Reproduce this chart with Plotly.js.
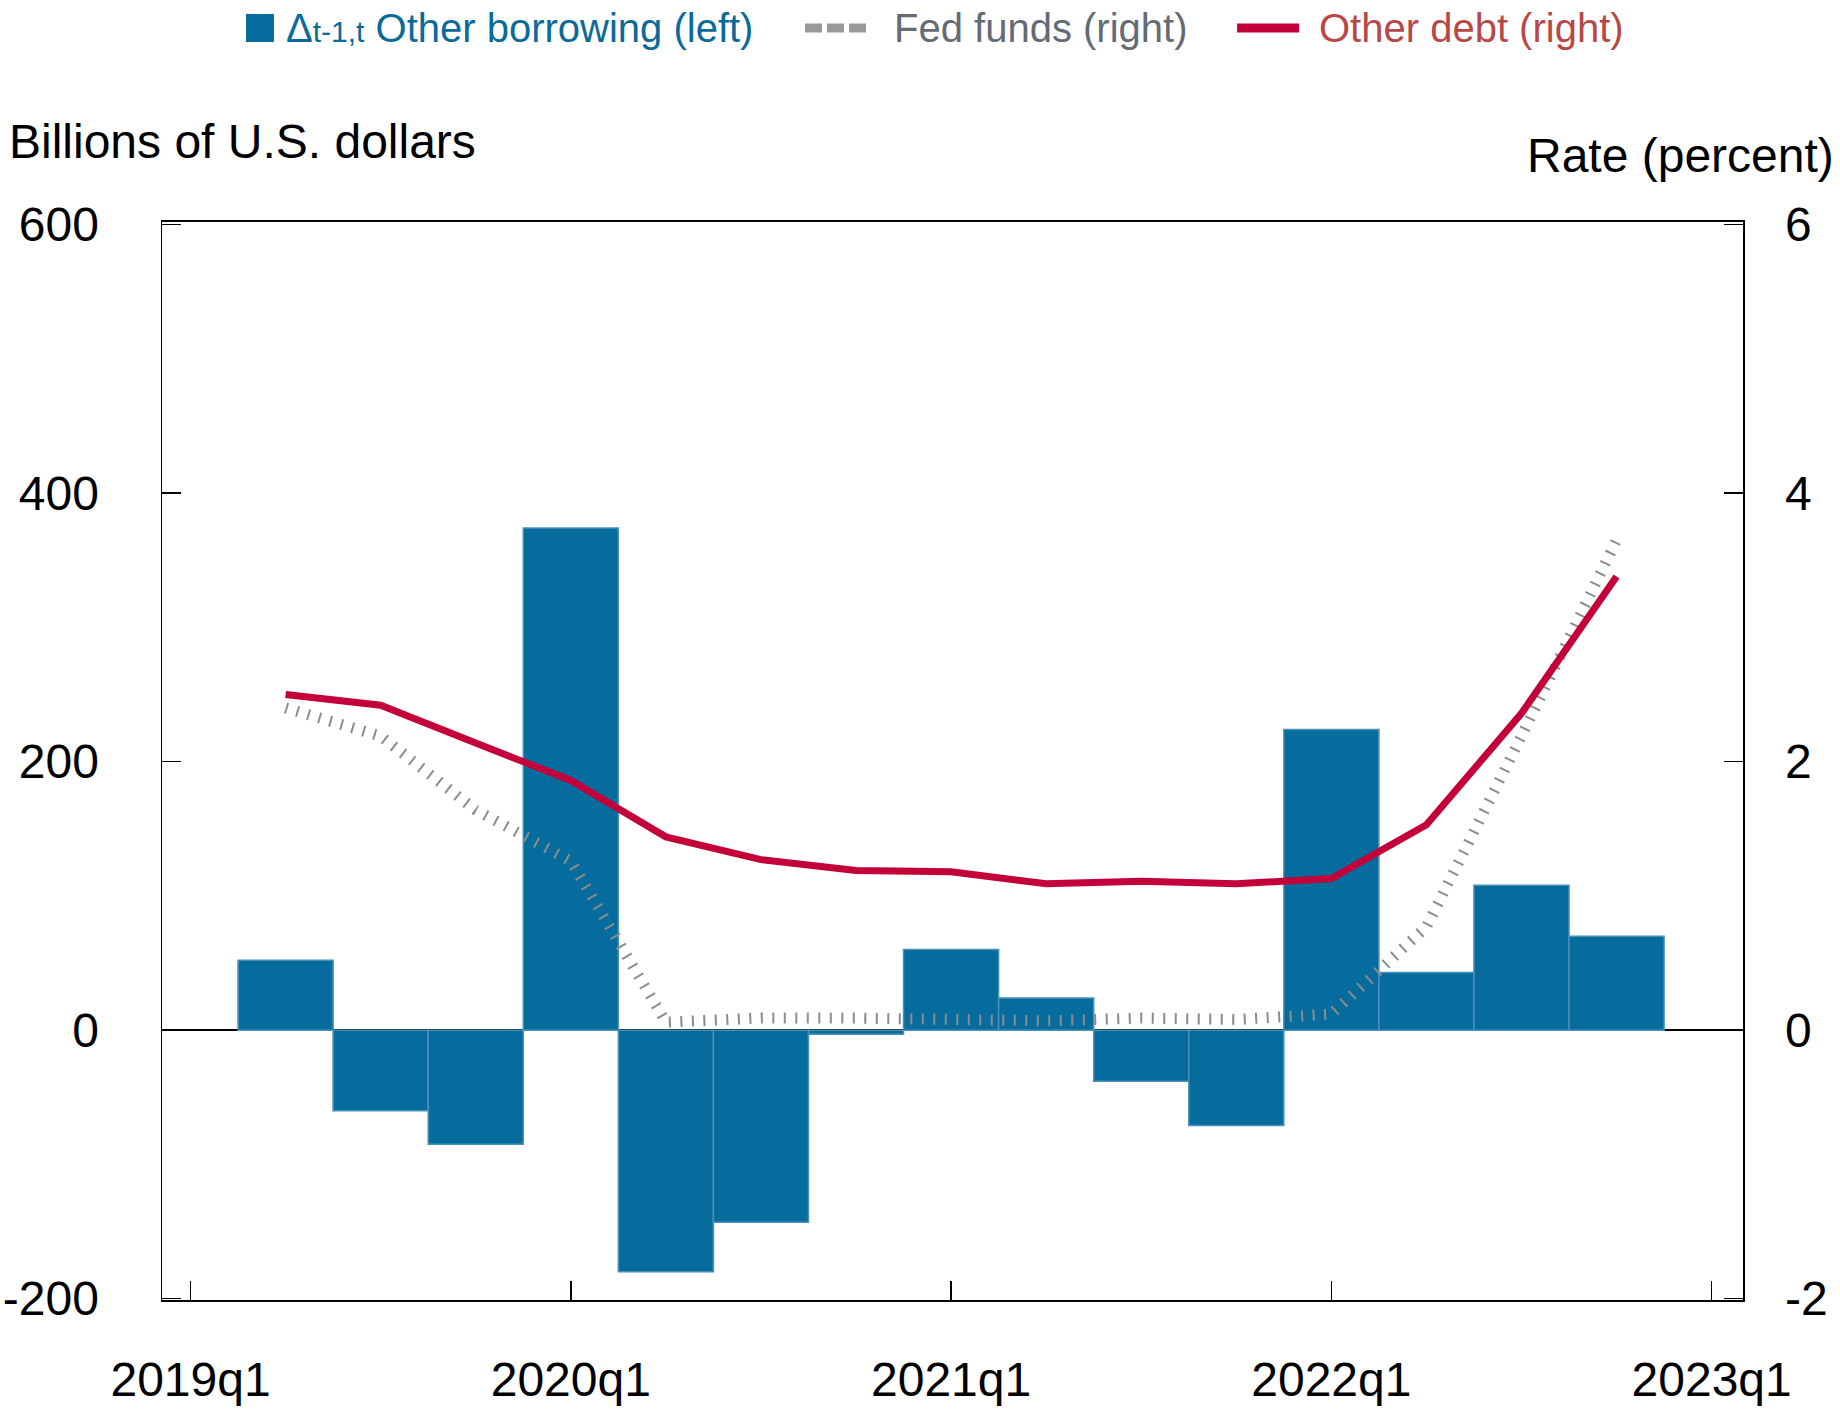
<!DOCTYPE html>
<html>
<head>
<meta charset="utf-8">
<script src="https://cdn.plot.ly/plotly-3.0.1.min.js"></script>
<style>
  html, body { margin: 0; padding: 0; background: #fff; }
  #chart { width: 1840px; height: 1423px; }
</style>
</head>
<body>
<div id="chart"></div>
<script>
// axis categories, 2019q1 .. 2023q1
const quarters = [
    '2019q1', '2019q2', '2019q3', '2019q4',
    '2020q1', '2020q2', '2020q3', '2020q4',
    '2021q1', '2021q2', '2021q3', '2021q4',
    '2022q1', '2022q2', '2022q3', '2022q4',
    '2023q1'
];
const tickQuarters = ['2019q1', '2020q1', '2021q1', '2022q1', '2023q1'];
const leftTicks = [-200, 0, 200, 400, 600];
const leftTickText = ['-200', '0', '200', '400', '600'];
const rightTicks = [-2, 0, 2, 4, 6];
const rightTickText = ['-2', '0', '2', '4', '6'];

// observations, 2019q2 .. 2022q4
const obsQuarters = [
    '2019q2', '2019q3', '2019q4',
    '2020q1', '2020q2', '2020q3', '2020q4',
    '2021q1', '2021q2', '2021q3', '2021q4',
    '2022q1', '2022q2', '2022q3', '2022q4'
];
const otherBorrowing = [52, -60, -85, 374, -180, -143, -3, 60, 24, -38, -71, 224, 43, 108, 70];
const fedFunds = [2.40, 2.19, 1.64, 1.26, 0.06, 0.09, 0.09, 0.08, 0.07, 0.09, 0.08, 0.12, 0.77, 2.19, 3.65];
const otherDebt = [2.50, 2.42, 2.14, 1.86, 1.44, 1.27, 1.19, 1.18, 1.09, 1.11, 1.09, 1.13, 1.53, 2.36, 3.38];

const colors = {
    bar: '#066c9e',
    barText: '#0a6a9a',
    fed: '#8c8c8c',
    fedText: '#646b74',
    debt: '#c3003a',
    debtText: '#b84848'
};
const font = 'Liberation Sans, Arial, sans-serif';

const traces = [
    {
        x: obsQuarters,
        y: otherBorrowing,
        type: 'bar',
        width: 1,
        name: 'Other borrowing (left)',
        marker: { color: colors.bar, line: { color: '#4a91b8', width: 1.5 } },
        yaxis: 'y'
    },
    {
        x: obsQuarters,
        y: fedFunds,
        type: 'scatter',
        mode: 'lines',
        name: 'Fed funds (right)',
        line: { color: colors.fed, width: 11, dash: '2px,9.5px' },
        yaxis: 'y2'
    },
    {
        x: obsQuarters,
        y: otherDebt,
        type: 'scatter',
        mode: 'lines',
        name: 'Other debt (right)',
        line: { color: colors.debt, width: 7 },
        yaxis: 'y2'
    }
];

// legend above the plot, drawn as shapes + text
const legendY = 1.18;
const legendShapes = [
    {
        type: 'rect', xref: 'paper', yref: 'paper',
        x0: 0.0531, x1: 0.0708, y0: 1.167, y1: 1.193,
        fillcolor: colors.bar, line: { width: 0 }
    },
    {
        type: 'line', xref: 'paper', yref: 'paper',
        x0: 0.4067, x1: 0.4466, y0: legendY, y1: legendY,
        line: { color: '#999999', width: 9, dash: '17px,5px' }
    },
    {
        type: 'line', xref: 'paper', yref: 'paper',
        x0: 0.6800, x1: 0.7192, y0: legendY, y1: legendY,
        line: { color: colors.debt, width: 9 }
    }
];
const legendTexts = [
    { x: 0.0772, text: '\u0394<span style="font-size:30px">t-1,t</span> Other borrowing (left)', color: colors.barText },
    { x: 0.4617, text: 'Fed funds (right)', color: colors.fedText },
    { x: 0.7306, text: 'Other debt (right)', color: colors.debtText }
].map(t => ({
    text: t.text,
    xref: 'paper', yref: 'paper',
    x: t.x, xanchor: 'left',
    y: legendY, yanchor: 'middle',
    showarrow: false,
    font: { size: 40, color: t.color }
}));

const layout = {
    width: 1840,
    height: 1423,
    margin: { l: 162, r: 97, t: 222, b: 123, autoexpand: false },
    paper_bgcolor: '#fff',
    plot_bgcolor: '#fff',
    font: { family: font, size: 48, color: '#000' },
    showlegend: false,
    bargap: 0,
    xaxis: {
        type: 'category',
        categoryorder: 'array',
        categoryarray: quarters,
        range: [-0.3, 16.33],
        tickvals: tickQuarters,
        ticktext: tickQuarters,
        ticks: 'inside',
        ticklen: 19,
        tickwidth: 1.5,
        tickcolor: '#000',
        ticklabelstandoff: 36,
        showgrid: false,
        showline: true,
        mirror: true,
        linecolor: '#000',
        linewidth: 2,
        tickfont: { size: 48 }
    },
    yaxis: {
        range: [-201, 602],
        tickvals: leftTicks,
        ticktext: leftTickText,
        ticks: 'inside',
        ticklen: 19,
        tickwidth: 1.5,
        tickcolor: '#000',
        ticklabelstandoff: 52,
        showgrid: false,
        zeroline: true,
        zerolinecolor: '#000',
        zerolinewidth: 2.5,
        showline: true,
        mirror: true,
        linecolor: '#000',
        linewidth: 1.5,
        tickfont: { size: 48 }
    },
    yaxis2: {
        overlaying: 'y',
        side: 'right',
        range: [-2.01, 6.02],
        tickvals: rightTicks,
        ticktext: rightTickText,
        ticks: 'inside',
        ticklen: 19,
        tickwidth: 1.5,
        tickcolor: '#000',
        ticklabelstandoff: 41,
        showgrid: false,
        zeroline: false,
        showline: false,
        tickfont: { size: 48 }
    },
    shapes: legendShapes,
    annotations: [
        {
            text: 'Billions of U.S. dollars',
            xref: 'paper', yref: 'paper',
            x: -0.098, xanchor: 'left',
            y: 1.075, yanchor: 'middle',
            showarrow: false,
            font: { size: 48, color: '#000' }
        },
        {
            text: 'Rate (percent)',
            xref: 'paper', yref: 'paper',
            x: 1.0588, xanchor: 'right',
            y: 1.062, yanchor: 'middle',
            showarrow: false,
            font: { size: 48, color: '#000' }
        }
    ].concat(legendTexts)
};

Plotly.newPlot('chart', traces, layout, { displayModeBar: false, staticPlot: true });
</script>
</body>
</html>
